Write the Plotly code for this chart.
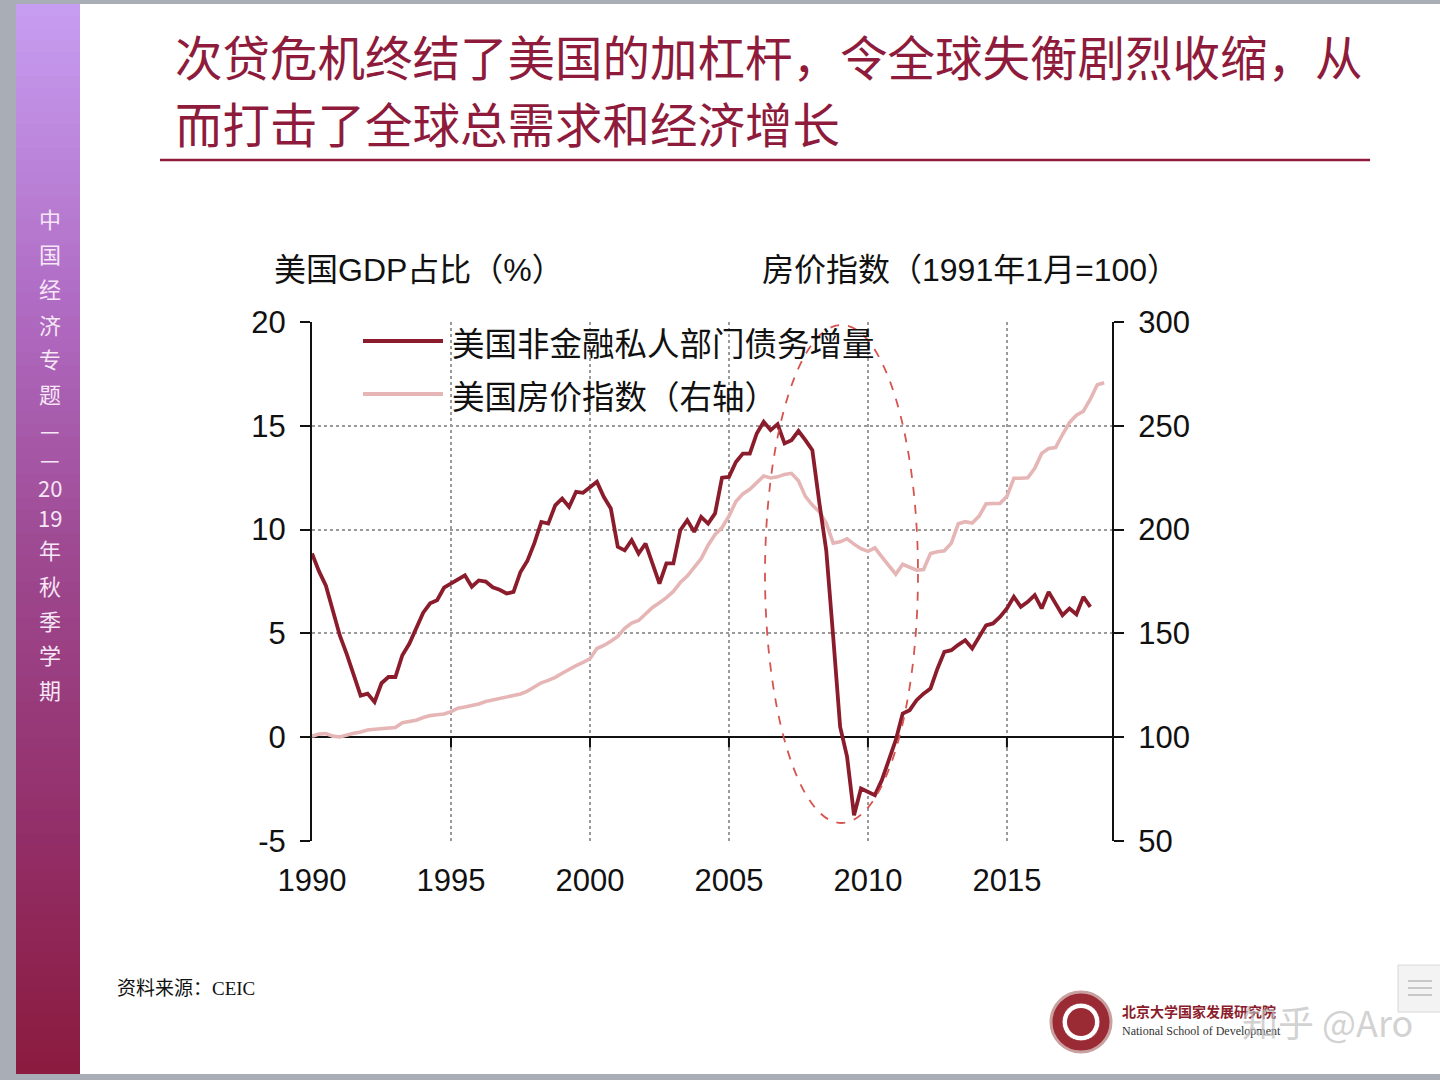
import numpy as np
import plotly.graph_objects as go

# ---------------- data (quarterly, starting 1990Q1) ----------------
start_year = 1990.0
quarter_step = 0.25

debt_increment = [
    8.85, 8.0, 7.3, 6.1, 4.9, 4.0, 3.05, 2.0, 2.1, 1.7,
    2.6, 2.9, 2.9, 3.95, 4.5, 5.2, 6.0, 6.45, 6.6, 7.2,
    7.4, 7.65, 7.8, 7.25, 7.55, 7.5, 7.22, 7.1, 6.92, 7.0,
    7.96, 8.5, 9.35, 10.37, 10.29, 11.17, 11.5, 11.09, 11.82, 11.77,
    12.06, 12.3, 11.57, 11.02, 9.17, 9.0, 9.49, 8.85, 9.33, 8.37,
    7.4, 8.37, 8.37, 9.97, 10.45, 9.89, 10.61, 10.29, 10.78, 12.5,
    12.54, 13.26, 13.66, 13.66, 14.63, 15.19, 14.79, 15.08, 14.15, 14.31,
    14.75, 14.31, 13.82, 11.3, 9.0, 4.83, 0.5, -0.95, -3.76, -2.47,
    -2.65, -2.79, -2.07, -1.11, -0.14, 1.14, 1.3, 1.78, 2.1, 2.34,
    3.3, 4.11, 4.19, 4.45, 4.67, 4.27, 4.8, 5.39, 5.48, 5.79,
    6.2, 6.76, 6.28, 6.52, 6.84, 6.2, 7.0, 6.44, 5.88, 6.2,
    5.92, 6.76, 6.28,
]

house_price_index = [
    100.5, 101.5, 101.8, 100.5, 100.1, 101.2, 101.9, 102.5, 103.5, 103.8,
    104.2, 104.4, 104.7, 107.0, 107.6, 108.2, 109.5, 110.4, 110.8, 111.2,
    112.3, 114.0, 114.5, 115.2, 116.0, 117.2, 118.0, 118.5, 119.4, 120.2,
    120.8, 122.2, 124.3, 126.2, 127.4, 128.8, 130.8, 132.8, 134.5, 136.0,
    137.8, 142.7, 144.2, 146.2, 148.5, 152.5, 155.0, 156.2, 159.5, 162.5,
    164.8, 167.2, 170.2, 174.5, 177.6, 181.5, 186.0, 192.5, 197.6, 201.0,
    206.5, 213.5, 217.2, 219.4, 222.5, 225.8, 224.9, 225.4, 226.6, 227.1,
    223.5, 216.0, 211.8, 208.6, 203.0, 193.5, 194.1, 195.6, 193.0, 190.8,
    189.5, 191.2, 186.9, 182.8, 178.5, 183.3, 182.0, 180.5, 180.8, 188.5,
    189.3, 189.8, 193.5, 202.8, 203.8, 203.2, 206.5, 212.4, 212.6, 212.6,
    216.0, 224.7, 224.7, 225.0, 229.5, 236.7, 239.1, 239.5, 245.8, 251.6,
    255.1, 257.0, 262.8, 269.8, 270.7,
]

year_ticks = [1990, 1995, 2000, 2005, 2010, 2015]
left_ticks = [-5, 0, 5, 10, 15, 20]
left_tick_labels = ["-5", "0", "5", "10", "15", "20"]
right_ticks = [50, 100, 150, 200, 250, 300]

title_lines = ["次贷危机终结了美国的加杠杆，令全球失衡剧烈收缩，从",
               "而打击了全球总需求和经济增长"]
series_names = ["美国非金融私人部门债务增量", "美国房价指数（右轴）"]
left_axis_title = "美国GDP占比（%）"
right_axis_title = "房价指数（1991年1月=100）"
sidebar_chars = ["中", "国", "经", "济", "专", "题", "—", "—", "20", "19",
                 "年", "秋", "季", "学", "期"]
source_text = "资料来源：CEIC"

debt_x = start_year + np.arange(len(debt_increment)) * quarter_step
house_x = start_year + np.arange(len(house_price_index)) * quarter_step

# ---------------- styling ----------------
DEBT_COLOR = "#8B1C2C"
HOUSE_COLOR = "#E6B6B6"
TITLE_COLOR = "#8E1B3C"
CJK = "Noto Sans CJK SC"
NUM = "Liberation Sans, Arial, sans-serif"
MIX = "Liberation Sans, Noto Sans CJK SC, sans-serif"

# plot area in pixels
PL, PR, PT, PB = 312, 1112, 322, 841


def px(x):
    return (x - PL) / (PR - PL)


def py(y):
    return (PB - y) / (PB - PT)


fig = go.Figure()

fig.add_trace(go.Scatter(
    x=house_x, y=house_price_index, mode="lines", xaxis="x", yaxis="y",
    line=dict(color=HOUSE_COLOR, width=3.6), name=series_names[1],
    showlegend=False, hoverinfo="skip"))

fig.add_trace(go.Scatter(
    x=debt_x, y=debt_increment, mode="lines", xaxis="x", yaxis="y2",
    line=dict(color=DEBT_COLOR, width=3.8), name=series_names[0],
    showlegend=False, hoverinfo="skip"))

grid = dict(showgrid=True, gridcolor="#9a9a9a", griddash="dot", gridwidth=1.5)

fig.update_layout(
    width=1440, height=1080,
    margin=dict(l=PL, r=1440 - PR, t=PT, b=1080 - PB),
    paper_bgcolor="white", plot_bgcolor="white",
    showlegend=False,
    xaxis=dict(range=[1990, 2018.78], tickvals=year_ticks, ticks="",
               showline=False, zeroline=False,
               tickfont=dict(family=NUM, size=31, color="#111"),
               ticklabelstandoff=18, **grid),
    # house price axis (right)
    yaxis=dict(range=[50, 300], tickvals=right_ticks, side="right",
               showline=True, linecolor="#111", linewidth=2,
               ticks="outside", ticklen=10, tickwidth=2, tickcolor="#111",
               tickfont=dict(family=NUM, size=31, color="#111"),
               ticklabelstandoff=8, zeroline=False, showgrid=False),
    # debt axis (left)
    yaxis2=dict(range=[-5, 20], tickvals=left_ticks,
                ticktext=left_tick_labels, side="left",
                overlaying="y", anchor="x",
                showline=True, linecolor="#111", linewidth=2,
                ticks="outside", ticklen=10, tickwidth=2, tickcolor="#111",
                tickfont=dict(family=NUM, size=31, color="#111"),
                ticklabelstandoff=8,
                zeroline=True, zerolinecolor="#111", zerolinewidth=2,
                **grid),
)

shapes = []
annotations = []

# ---- tick marks hanging below the zero line ----
for yr in year_ticks[1:]:
    shapes.append(dict(type="line", xref="x", yref="y2",
                       x0=yr, x1=yr, y0=0, y1=-0.5,
                       line=dict(color="#111", width=2)))

# ---- slide frame / sidebar ----
shapes.append(dict(type="rect", xref="paper", yref="paper",
                   x0=px(0), x1=px(16), y0=py(1080), y1=py(0),
                   fillcolor="#A9AEB6", line=dict(width=0), layer="below"))
shapes.append(dict(type="rect", xref="paper", yref="paper",
                   x0=px(0), x1=px(1440), y0=py(4), y1=py(0),
                   fillcolor="#A9AEB6", line=dict(width=0), layer="below"))
shapes.append(dict(type="rect", xref="paper", yref="paper",
                   x0=px(0), x1=px(1440), y0=py(1080), y1=py(1074),
                   fillcolor="#A9AEB6", line=dict(width=0), layer="below"))

stops = [(4, (199, 158, 242)), (300, (176, 108, 196)), (560, (158, 72, 144)),
         (820, (147, 48, 106)), (1074, (139, 26, 62))]


def band_color(y):
    for (y0, c0), (y1, c1) in zip(stops[:-1], stops[1:]):
        if y0 <= y <= y1:
            t = (y - y0) / (y1 - y0)
            c = [round(a + (b - a) * t) for a, b in zip(c0, c1)]
            return "rgb(%d,%d,%d)" % tuple(c)
    return "rgb(%d,%d,%d)" % stops[-1][1]


band_edges = np.linspace(4, 1074, 90)
for y0, y1 in zip(band_edges[:-1], band_edges[1:]):
    col = band_color((y0 + y1) / 2)
    shapes.append(dict(type="rect", xref="paper", yref="paper",
                       x0=px(16), x1=px(80), y0=py(min(y1 + 3, 1074)),
                       y1=py(y0),
                       fillcolor=col, line=dict(width=0), layer="below"))

sidebar_y = [218, 253, 288, 324, 358, 393, 429, 458, 487, 517,
             549, 585, 620, 654, 689]
for ch, yy in zip(sidebar_chars, sidebar_y):
    annotations.append(dict(x=px(50), y=py(yy), xref="paper", yref="paper",
                            text=ch, showarrow=False, xanchor="center",
                            yanchor="middle",
                            font=dict(family=CJK, size=22, color="#F6E6F6")))

# ---- title ----
for line, yy in zip(title_lines, [55, 122]):
    annotations.append(dict(x=px(173), y=py(yy), xref="paper", yref="paper",
                            text=line, showarrow=False, xanchor="left",
                            yanchor="middle",
                            font=dict(family=CJK, size=47.5,
                                      color=TITLE_COLOR)))
shapes.append(dict(type="line", xref="paper", yref="paper",
                   x0=px(160), x1=px(1370), y0=py(160), y1=py(160),
                   line=dict(color=TITLE_COLOR, width=2.5)))

# ---- axis titles ----
annotations.append(dict(x=px(272), y=py(270), xref="paper", yref="paper",
                        text=left_axis_title, showarrow=False, xanchor="left",
                        yanchor="middle",
                        font=dict(family=MIX, size=32, color="#111")))
annotations.append(dict(x=px(760), y=py(270), xref="paper", yref="paper",
                        text=right_axis_title, showarrow=False, xanchor="left",
                        yanchor="middle",
                        font=dict(family=MIX, size=32, color="#111")))

# ---- legend ----
for name, color, yy in [(series_names[0], DEBT_COLOR, 341),
                        (series_names[1], HOUSE_COLOR, 394)]:
    shapes.append(dict(type="line", xref="paper", yref="paper",
                       x0=px(363), x1=px(443), y0=py(yy), y1=py(yy),
                       line=dict(color=color, width=4)))
    annotations.append(dict(x=px(450), y=py(yy), xref="paper", yref="paper",
                            text=name, showarrow=False, xanchor="left",
                            yanchor="middle",
                            font=dict(family=CJK, size=32.5, color="#111")))

# ---- highlight ellipse ----
shapes.append(dict(type="circle", xref="paper", yref="paper",
                   x0=px(765), x1=px(918), y0=py(823), y1=py(325),
                   line=dict(color="#D6544F", width=1.8, dash="dash")))

# ---- footer ----
annotations.append(dict(x=px(115), y=py(988), xref="paper", yref="paper",
                        text=source_text, showarrow=False, xanchor="left",
                        yanchor="middle",
                        font=dict(family="Liberation Serif, " + CJK, size=19,
                                  color="#111")))
shapes.append(dict(type="circle", xref="paper", yref="paper",
                   x0=px(1051), x1=px(1111), y0=py(1052), y1=py(992),
                   fillcolor="#9A2A34", line=dict(color="#C9A0A0", width=3)))
shapes.append(dict(type="circle", xref="paper", yref="paper",
                   x0=px(1062), x1=px(1100), y0=py(1041), y1=py(1003),
                   fillcolor="#FFFFFF", line=dict(color="#9A2A34", width=1)))
shapes.append(dict(type="circle", xref="paper", yref="paper",
                   x0=px(1067), x1=px(1095), y0=py(1036), y1=py(1008),
                   fillcolor="#9A2A34", line=dict(width=0)))
annotations.append(dict(x=px(1120), y=py(1011), xref="paper", yref="paper",
                        text="<b>北京大学国家发展研究院</b>", showarrow=False,
                        xanchor="left", yanchor="middle",
                        font=dict(family=CJK, size=14, color="#8B1C2C")))
annotations.append(dict(x=px(1120), y=py(1031), xref="paper", yref="paper",
                        text="National School of Development", showarrow=False,
                        xanchor="left", yanchor="middle",
                        font=dict(family="Liberation Serif", size=12,
                                  color="#333")))
annotations.append(dict(x=px(1240), y=py(1021), xref="paper", yref="paper",
                        text="知乎 @Aro", showarrow=False,
                        xanchor="left", yanchor="middle",
                        font=dict(family=CJK, size=36,
                                  color="rgba(190,190,190,0.7)")))
# side button
shapes.append(dict(type="rect", xref="paper", yref="paper",
                   x0=px(1398), x1=px(1446), y0=py(1012), y1=py(965),
                   fillcolor="#F3F3F3", line=dict(color="#D8D8D8", width=1)))
for yy in [981, 988, 995]:
    shapes.append(dict(type="line", xref="paper", yref="paper",
                       x0=px(1408), x1=px(1432), y0=py(yy), y1=py(yy),
                       line=dict(color="#B8B8B8", width=1.5)))

fig.update_layout(shapes=shapes, annotations=annotations)

fig.write_html("out.html")
